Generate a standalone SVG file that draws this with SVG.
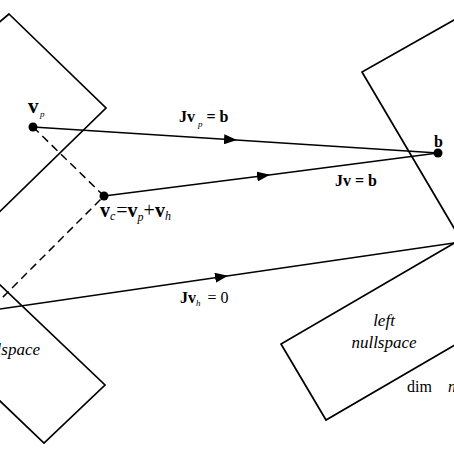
<svg xmlns="http://www.w3.org/2000/svg" width="454" height="454" viewBox="0 0 454 454">
<style>
.box{fill:none;stroke:#000;stroke-width:1.7}
.ln{fill:none;stroke:#000;stroke-width:1.7}
.dash{fill:none;stroke:#000;stroke-width:1.5;stroke-dasharray:8 5}
.dot{fill:#000}
text{font-family:"Liberation Serif","Times New Roman",serif;fill:#000}
.b{font-weight:bold}
.i{font-style:italic}
</style>
<defs>
<marker id="arr" markerWidth="14" markerHeight="10" refX="12" refY="5" orient="auto" markerUnits="userSpaceOnUse">
<path d="M0,0 L13,5 L0,10 Z" fill="#000"/>
</marker>
</defs>
<rect width="454" height="454" fill="#fff"/>
<g id="box-topleft"><polygon class="box" points="9,14 106,108 -14,225 -129,131"/></g>
<g id="box-topright"><polyline class="box" points="500,-6 362,72 500,306"/></g>
<g id="box-bottomleft"><polygon class="box" points="-3,282 105,385 44,443 -64,340"/>
<text class="i" x="40" y="355" font-size="17" text-anchor="end">nullspace</text></g>
<g id="box-bottomright"><polygon class="box" points="281,344 326,420 551,289 506,213"/>
<text class="i" x="384" y="326" font-size="17" text-anchor="middle">left</text>
<text class="i" x="384" y="348" font-size="17" text-anchor="middle">nullspace</text>
<text x="407" y="392" font-size="16">dim</text>
<text class="i" x="448" y="392" font-size="16">n</text></g>
<g id="connectors">
<polyline class="ln" points="33,127 236,140 438,153" marker-mid="url(#arr)"/>
<polyline class="ln" points="104,196 269,175 438,153" marker-mid="url(#arr)"/>
<polyline class="ln" points="0,309 227,276 454,243" marker-mid="url(#arr)"/>
<polyline class="dash" points="33,127 104,196 0,300"/>
</g>
<g id="node-vp"><circle class="dot" cx="33" cy="127" r="4.5"/>
<text class="b" x="28" y="113" font-size="21">v</text><text class="i" x="40" y="117" font-size="9">p</text></g>
<g id="node-vc"><circle class="dot" cx="104" cy="196" r="4.5"/>
<text x="100" y="217" font-size="20"><tspan class="b">v</tspan><tspan class="i" font-size="12" dy="3">c</tspan><tspan dy="-3" dx="1">=</tspan><tspan class="b">v</tspan><tspan class="i" font-size="12" dy="4">p</tspan><tspan dy="-4">+</tspan><tspan class="b">v</tspan><tspan class="i" font-size="12" dy="3">h</tspan></text></g>
<g id="node-b"><circle class="dot" cx="438" cy="153" r="4.5"/>
<text class="b" x="434" y="147" font-size="16">b</text></g>
<g id="labels">
<text class="b" x="179" y="122" font-size="16">Jv<tspan class="i" font-weight="normal" font-size="9" dx="3" dy="5">p</tspan><tspan dy="-5" dx="4">= b</tspan></text>
<text class="b" x="335" y="186" font-size="16">Jv = b</text>
<text x="180" y="303" font-size="16"><tspan class="b">Jv</tspan><tspan class="i" font-size="9" dy="3">h</tspan><tspan dy="-3" dx="7">= 0</tspan></text>
</g>
</svg>
